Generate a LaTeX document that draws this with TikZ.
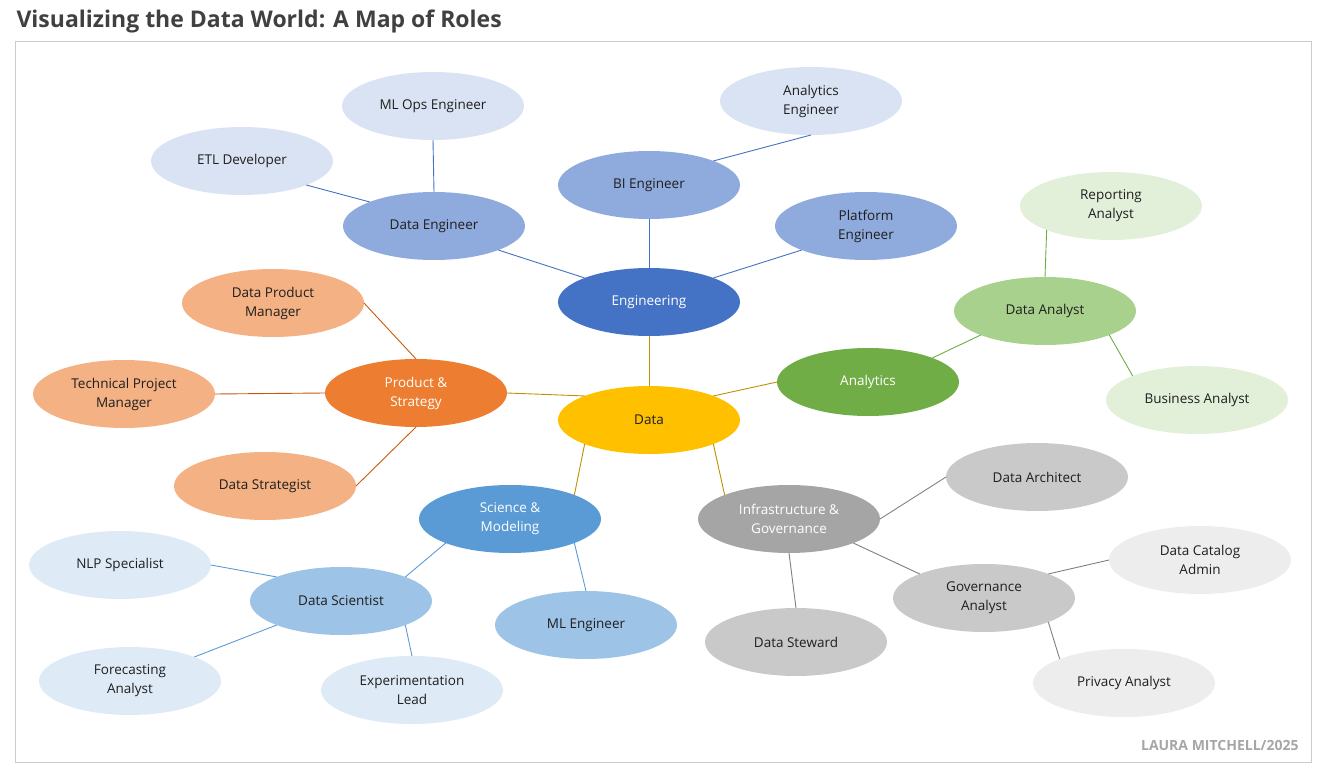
\documentclass[tikz,border=0pt]{standalone}
\usepackage{fontspec}
\setmainfont{Open Sans}
\usetikzlibrary{shapes.geometric}

\definecolor{engA}{HTML}{4472C4}
\definecolor{engB}{HTML}{8FAADC}
\definecolor{engC}{HTML}{DAE3F3}
\definecolor{datA}{HTML}{FFC000}
\definecolor{datL}{HTML}{BF9000}
\definecolor{prdA}{HTML}{ED7D31}
\definecolor{prdB}{HTML}{F4B183}
\definecolor{prdL}{HTML}{C55A11}
\definecolor{anaA}{HTML}{70AD47}
\definecolor{anaB}{HTML}{A9D18E}
\definecolor{anaC}{HTML}{E2F0D9}
\definecolor{sciA}{HTML}{5B9BD5}
\definecolor{sciB}{HTML}{9DC3E6}
\definecolor{sciC}{HTML}{DEEBF7}
\definecolor{infA}{HTML}{A5A5A5}
\definecolor{infB}{HTML}{C9C9C9}
\definecolor{infC}{HTML}{EDEDED}
\definecolor{infL}{HTML}{7F7F7F}
\definecolor{ink}{HTML}{1F1F1F}

\tikzset{
  role/.style={ellipse, minimum width=182pt, minimum height=68pt, inner sep=0pt,
    outer sep=0pt, align=center, text=ink, font=\fontsize{13.5}{19}\selectfont},
  hub/.style={role, text=white},
  link/.style={line width=0.9pt}
}

\begin{document}
\begin{tikzpicture}[x=1pt,y=-1pt]
			\useasboundingbox (0,0) rectangle (1327,775);
			\draw[color=black!20, line width=1pt](15,42) rectangle (1311,762);
			\node[anchor=west, text=black!75, font=\fontsize{23}{27}\selectfont\bfseries] (title) at (13,21) {Visualizing the Data World: A Map of Roles};
			\node[anchor=east, text=black!35, font=\fontsize{14}{16}\selectfont\bfseries] (sign) at (1302,745) {LAURA MITCHELL/2025};
			% centre
			\node[role, fill=datA] (data) at (649,420) {Data};
			% engineering
			\node[hub, fill=engA] (eng) at (649,302) {Engineering};
			\node[role, fill=engB] (bi) at (649,185) {BI Engineer};
			\node[role, fill=engB] (de) at (434,226) {Data Engineer};
			\node[role, fill=engB] (plat) at (866,226) {Platform\\Engineer};
			\node[role, fill=engC] (ae) at (811,101) {Analytics\\Engineer};
			\node[role, fill=engC] (mlops) at (433,106) {ML Ops Engineer};
			\node[role, fill=engC] (etl) at (242,161) {ETL Developer};
			% product
			\node[hub, fill=prdA] (prod) at (416,393) {Product \&\\Strategy};
			\node[role, fill=prdB] (dpm) at (273,303) {Data Product\\Manager};
			\node[role, fill=prdB] (tpm) at (124,394) {Technical Project\\Manager};
			\node[role, fill=prdB] (strat) at (265,486) {Data Strategist};
			% analytics
			\node[hub, fill=anaA] (ana) at (868,382) {Analytics};
			\node[role, fill=anaB] (da) at (1045,311) {Data Analyst};
			\node[role, fill=anaC] (ra) at (1111,206) {Reporting\\Analyst};
			\node[role, fill=anaC] (ba) at (1197,400) {Business Analyst};
			% science
			\node[hub, fill=sciA] (sci) at (510,519) {Science \&\\Modeling};
			\node[role, fill=sciB] (ds) at (341,601) {Data Scientist};
			\node[role, fill=sciB] (mle) at (586,625) {ML Engineer};
			\node[role, fill=sciC] (nlp) at (120,565) {NLP Specialist};
			\node[role, fill=sciC] (fa) at (130,681) {Forecasting\\Analyst};
			\node[role, fill=sciC] (exp) at (412,690) {Experimentation\\Lead};
			% infrastructure
			\node[hub, fill=infA] (inf) at (789,519) {Infrastructure \&\\Governance};
			\node[role, fill=infB] (arch) at (1037,477) {Data Architect};
			\node[role, fill=infB] (ga) at (984,598) {Governance\\Analyst};
			\node[role, fill=infB] (stew) at (796,642) {Data Steward};
			\node[role, fill=infC] (cat) at (1200,560) {Data Catalog\\Admin};
			\node[role, fill=infC] (priv) at (1124,683) {Privacy Analyst};
			% links from the centre
			\draw[link, datL] (data.north) -- (eng.south);
			\draw[link, datL] (data.north west) -- (prod.east);
			\draw[link, datL] (data.north east) -- (ana.west);
			\draw[link, datL] (data.south west) -- (sci.north east);
			\draw[link, datL] (data.south east) -- (inf.north west);
			% engineering links
			\draw[link, engA] (eng.north) -- (bi.south);
			\draw[link, engA] (eng.north west) -- (de.south east);
			\draw[link, engA] (eng.north east) -- (plat.south west);
			\draw[link, engA] (bi.north east) -- (ae.south);
			\draw[link, engA] (de.north) -- (mlops.south);
			\draw[link, engA] (de.north west) -- (etl.south east);
			% product links
			\draw[link, prdL] (prod.north) -- (dpm.east);
			\draw[link, prdL] (prod.west) -- (tpm.east);
			\draw[link, prdL] (prod.south) -- (strat.east);
			% analytics links
			\draw[link, anaA] (ana.north east) -- (da.south west);
			\draw[link, anaA] (da.north) -- (ra.south west);
			\draw[link, anaA] (da.south east) -- (ba.north west);
			% science links
			\draw[link, sciA] (sci.south west) -- (ds.north east);
			\draw[link, sciA] (sci.south east) -- (mle.north);
			\draw[link, sciA] (ds.north west) -- (nlp.east);
			\draw[link, sciA] (ds.south west) -- (fa.north east);
			\draw[link, sciA] (ds.south east) -- (exp.north);
			% infrastructure links
			\draw[link, infL] (inf.east) -- (arch.west);
			\draw[link, infL] (inf.south east) -- (ga.north west);
			\draw[link, infL] (inf.south) -- (stew.north);
			\draw[link, infL] (ga.north east) -- (cat.west);
			\draw[link, infL] (ga.south east) -- (priv.north west);
		\end{tikzpicture}
\end{document}
